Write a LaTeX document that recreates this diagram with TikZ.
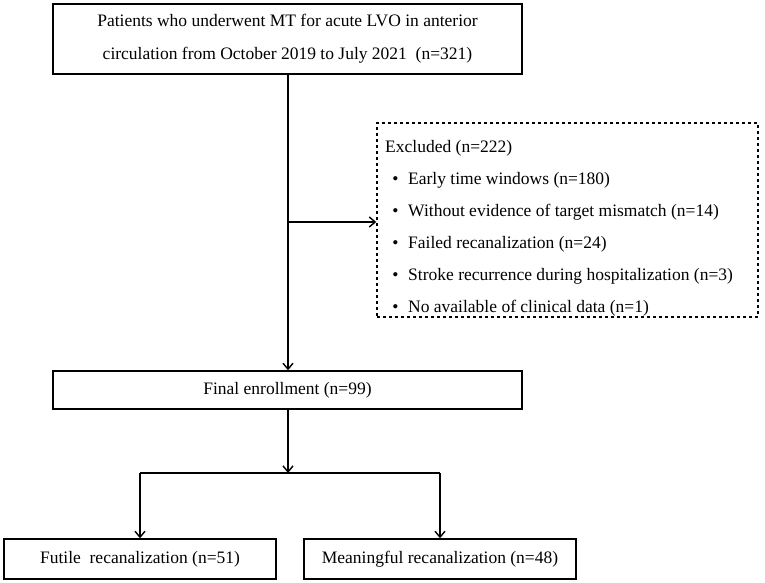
\documentclass[tikz,border=0pt]{standalone}
\usepackage{fontspec}
\setmainfont{Liberation Serif}
\usetikzlibrary{arrows.meta}
\begin{document}
\begin{tikzpicture}[x=1pt,y=-1pt,
  box/.style={draw,line width=1.4pt,inner sep=0pt},
  arr/.style={line width=1.4pt,-{Straight Barb[length=6pt,width=10pt,line width=1.4pt]}},
  ln/.style={line width=1.4pt},
  every node/.style={font=\fontsize{17.5}{33}\selectfont}]
\useasboundingbox (0,0) rectangle (765,583);
\node[box,minimum width=469pt,minimum height=70pt,align=center] (top) at (287.5,39)
  {Patients who underwent MT for acute LVO in anterior\\circulation from October 2019 to July 2021\ \ (n=321)};
\node[draw,dashed,line width=1.4pt,minimum width=381pt,minimum height=194pt,inner sep=0pt] (exc) at (567.5,220) {};
\node[anchor=west,align=left,inner sep=0pt,font=\fontsize{17.5}{32}\selectfont] (exct) at (385,228) {Excluded (n=222)\\
\makebox[23pt][l]{\ \,\textbullet}Early time windows (n=180)\\
\makebox[23pt][l]{\ \,\textbullet}Without evidence of target mismatch (n=14)\\
\makebox[23pt][l]{\ \,\textbullet}Failed recanalization (n=24)\\
\makebox[23pt][l]{\ \,\textbullet}Stroke recurrence during hospitalization (n=3)\\
\makebox[23pt][l]{\ \,\textbullet}No available of clinical data (n=1)};
\node[box,minimum width=469pt,minimum height=38pt] (fin) at (287.5,390) {Final enrollment (n=99)};
\node[box,minimum width=272pt,minimum height=40pt] (fut) at (140,559) {Futile\ \ recanalization (n=51)};
\node[box,minimum width=272pt,minimum height=40pt] (mean) at (440,559) {Meaningful recanalization (n=48)};
\coordinate (j) at (288,222);
\coordinate (s) at (288,473);
\draw[arr] (top.south -| j) -- (fin.north -| j);
\draw[arr] (j) -- (exc.west |- j);
\draw[arr] (fin.south -| j) -- (s);
\draw[ln] (fut.north |- s) -- (mean.north |- s);
\draw[arr] (fut.north |- s) -- (fut.north);
\draw[arr] (mean.north |- s) -- (mean.north);
\end{tikzpicture}
\end{document}
